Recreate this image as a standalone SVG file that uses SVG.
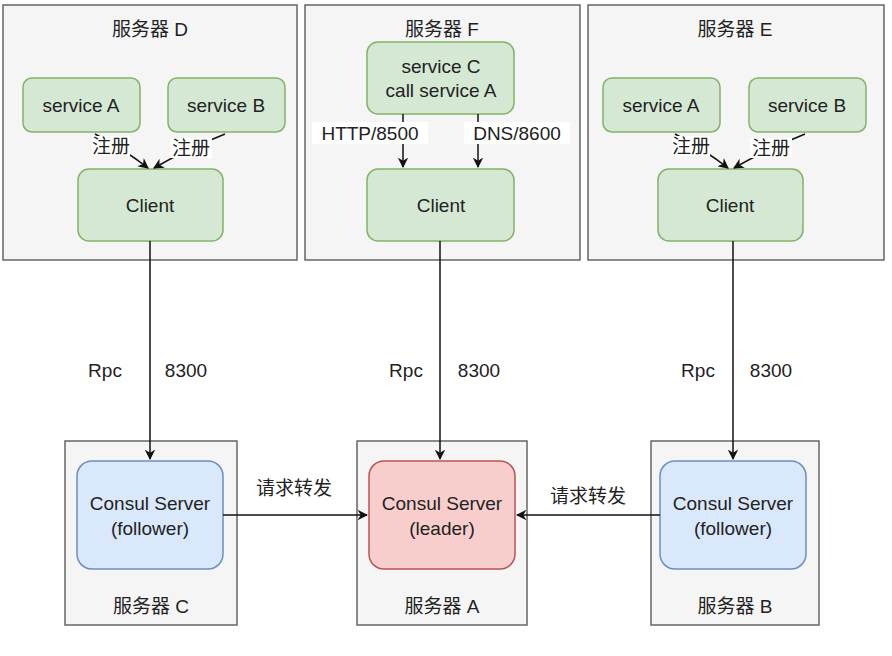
<svg xmlns="http://www.w3.org/2000/svg" width="892" height="656" viewBox="0 0 892 656">
<style>
text{font-family:"Liberation Sans","Noto Sans CJK SC",sans-serif;font-size:19px;fill:#222;text-anchor:middle}
.host{fill:#f5f5f5;stroke:#666;stroke-width:1.5}
.g{fill:#d5e8d4;stroke:#82b366;stroke-width:1.5}
.b{fill:#dae8fc;stroke:#6c8ebf;stroke-width:1.5}
.r{fill:#f8cecc;stroke:#b85450;stroke-width:1.5}
.e{fill:none;stroke:#111;stroke-width:1.5;marker-end:url(#a)}
.lbl{fill:#fff}
</style>
<defs><marker id="a" viewBox="0 0 10 10" refX="9" refY="5" markerWidth="7" markerHeight="7" orient="auto"><path d="M0 0L10 5L0 10L3 5z" fill="#111"/></marker></defs>
<rect width="892" height="656" fill="#fff"/>
<g id="hostD"><rect class="host" x="3" y="5" width="294" height="255"/><text x="150" y="36">服务器 D</text></g>
<g id="hostF"><rect class="host" x="305" y="5" width="275" height="255"/><text x="442" y="36">服务器 F</text></g>
<g id="hostE"><rect class="host" x="588" y="5" width="296" height="255"/><text x="735" y="36">服务器 E</text></g>
<g id="hostC"><rect class="host" x="65" y="441" width="172" height="184"/><text x="151" y="613">服务器 C</text></g>
<g id="hostA"><rect class="host" x="357" y="441" width="170" height="184"/><text x="442" y="613">服务器 A</text></g>
<g id="hostB"><rect class="host" x="651" y="441" width="168" height="184"/><text x="735" y="613">服务器 B</text></g>
<g id="dSvcA"><rect class="g" x="23" y="78" width="117" height="54" rx="9"/><text x="81" y="112">service A</text></g>
<g id="dSvcB"><rect class="g" x="168" y="78" width="117" height="54" rx="9"/><text x="226" y="112">service B</text></g>
<g id="dClient"><rect class="g" x="78" y="169" width="145" height="72" rx="11"/><text x="150" y="212">Client</text></g>
<g id="fSvcC"><rect class="g" x="367" y="42" width="147" height="72" rx="11"/><text x="441" y="73">service C</text><text x="441" y="97">call service A</text></g>
<g id="fClient"><rect class="g" x="367" y="169" width="147" height="72" rx="11"/><text x="441" y="212">Client</text></g>
<g id="eSvcA"><rect class="g" x="603" y="78" width="117" height="54" rx="9"/><text x="661" y="112">service A</text></g>
<g id="eSvcB"><rect class="g" x="749" y="78" width="117" height="54" rx="9"/><text x="807" y="112">service B</text></g>
<g id="eClient"><rect class="g" x="658" y="169" width="145" height="72" rx="11"/><text x="730" y="212">Client</text></g>
<g id="csC"><rect class="b" x="77" y="461" width="146" height="108" rx="15"/><text x="150" y="510">Consul Server</text><text x="150" y="535">(follower)</text></g>
<g id="csA"><rect class="r" x="369" y="461" width="146" height="108" rx="15"/><text x="442" y="510">Consul Server</text><text x="442" y="535">(leader)</text></g>
<g id="csB"><rect class="b" x="660" y="461" width="146" height="108" rx="15"/><text x="733" y="510">Consul Server</text><text x="733" y="535">(follower)</text></g>
<g id="edges">
<path class="e" d="M95 134Q125 150 148 168"/>
<path class="e" d="M225 134Q185 150 154 168"/>
<path class="e" d="M675 134Q705 150 728 168"/>
<path class="e" d="M805 134Q765 150 734 168"/>
<path class="e" d="M403 114V167"/>
<path class="e" d="M478 114V167"/>
<path class="e" d="M150 241V459"/>
<path class="e" d="M440 241V459"/>
<path class="e" d="M733 241V459"/>
<path class="e" d="M223 515H367"/>
<path class="e" d="M660 515H517"/>
<rect class="lbl" x="92" y="136" width="38" height="20"/><text x="111" y="153">注册</text>
<rect class="lbl" x="170" y="138" width="42" height="20"/><text x="191" y="155">注册</text>
<rect class="lbl" x="672" y="136" width="38" height="20"/><text x="691" y="153">注册</text>
<rect class="lbl" x="750" y="138" width="42" height="20"/><text x="771" y="155">注册</text>
<rect class="lbl" x="312" y="122" width="116" height="22"/><text x="370" y="140">HTTP/8500</text>
<rect class="lbl" x="464" y="122" width="106" height="22"/><text x="517" y="140">DNS/8600</text>
<text x="105" y="377">Rpc</text><text x="186" y="377">8300</text>
<text x="406" y="377">Rpc</text><text x="479" y="377">8300</text>
<text x="698" y="377">Rpc</text><text x="771" y="377">8300</text>
<text x="294" y="495">请求转发</text>
<text x="588" y="503">请求转发</text>
</g>
</svg>
